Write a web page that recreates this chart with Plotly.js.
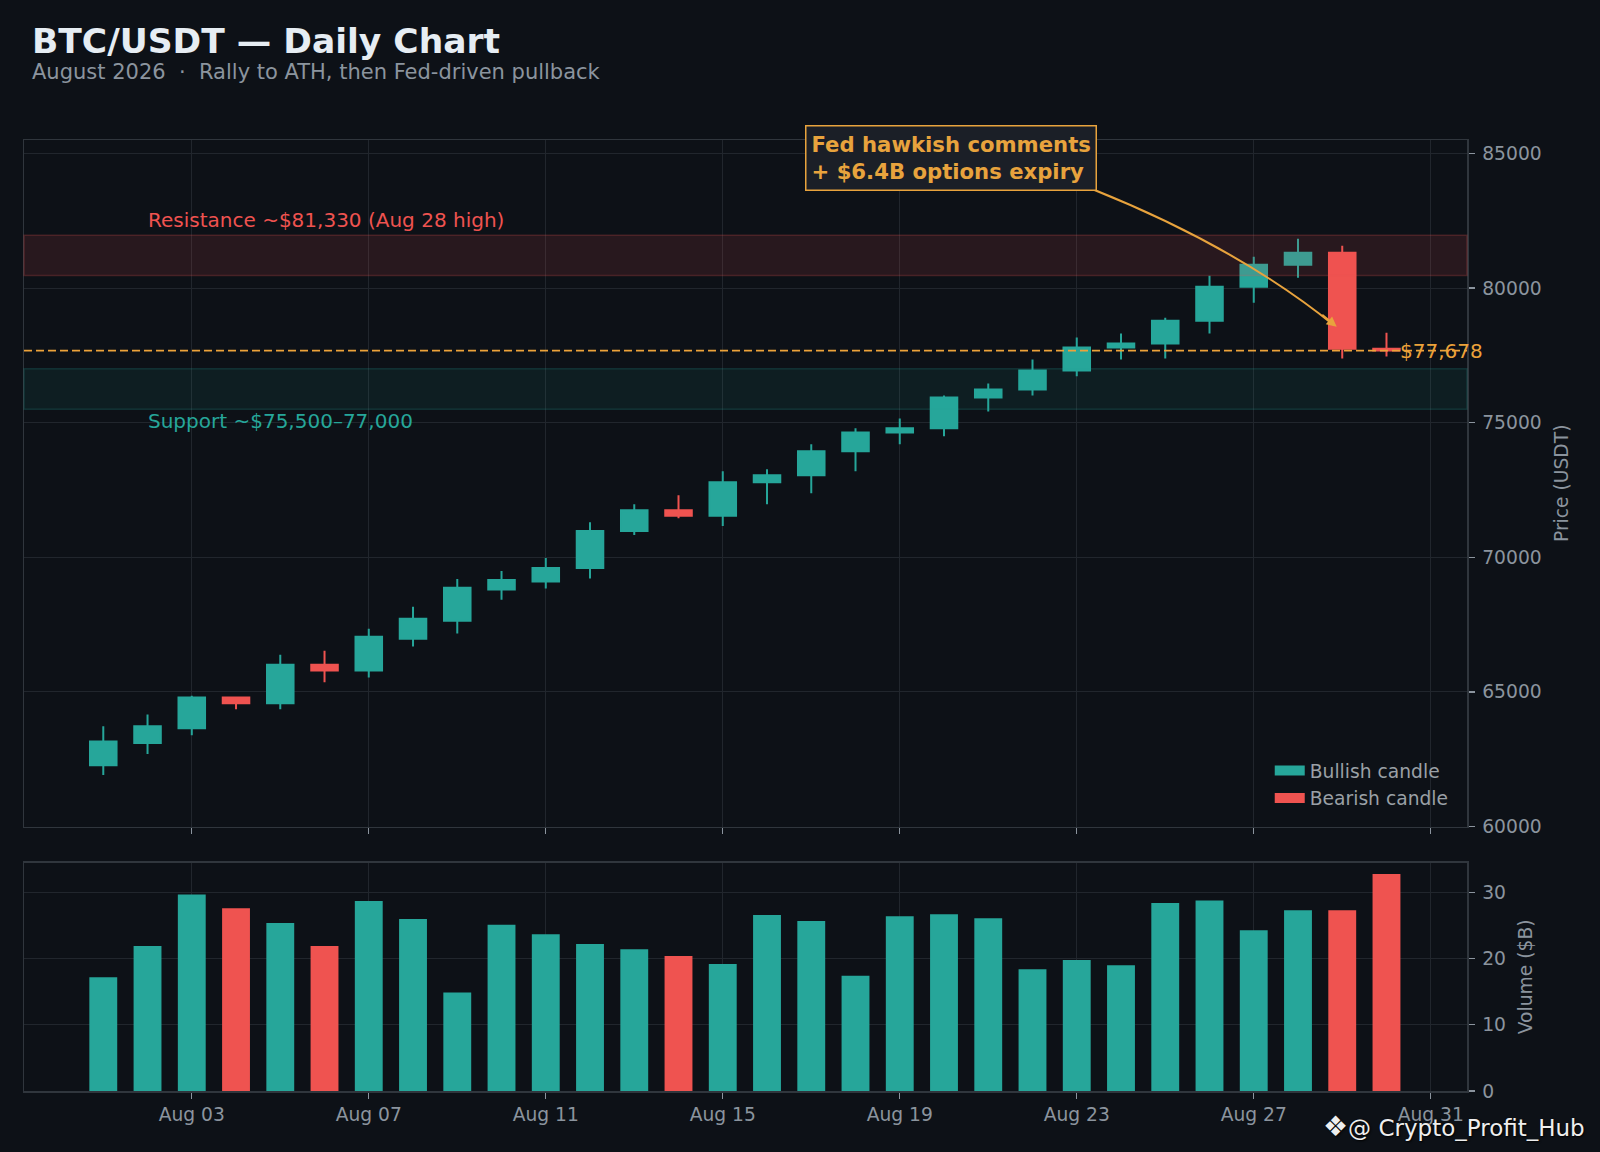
<!DOCTYPE html>
<html><head><meta charset="utf-8">
<script src="https://cdn.plot.ly/plotly-3.0.1.min.js"></script>
<style>html,body{margin:0;padding:0;background:#0d1117;} #chart{width:1600px;height:1152px;}</style>
</head><body><div id="chart"></div>
<script>
// ---- data ----
const dates = ['2026-08-01','2026-08-02','2026-08-03','2026-08-04','2026-08-05','2026-08-06','2026-08-07','2026-08-08','2026-08-09','2026-08-10',
               '2026-08-11','2026-08-12','2026-08-13','2026-08-14','2026-08-15','2026-08-16','2026-08-17','2026-08-18','2026-08-19','2026-08-20',
               '2026-08-21','2026-08-22','2026-08-23','2026-08-24','2026-08-25','2026-08-26','2026-08-27','2026-08-28','2026-08-29','2026-08-30'];
const open  = [62280,63100,63650,64790,64580,66010,65800,66975,67640,68800,69100,69605,70975,71750,71540,72790,73050,73940,74640,74790,75940,76235,76940,77790,77940,78790,80050,80865,81310,77750];
const high  = [63720,64160,64860,64830,66380,66530,67345,68160,69195,69495,69975,71305,71975,72305,73195,73270,74195,74790,75160,76010,76455,77345,78160,78310,78900,80455,81160,81830,81570,78345];
const low   = [61910,62690,63390,64355,64355,65355,65540,66690,67170,68420,68840,69210,70825,71455,71160,71975,72380,73195,74195,74495,75420,76010,76725,77345,77380,78310,79455,80380,77380,77455];
const close = [63160,63720,64790,64580,66010,65800,67050,67715,68865,69160,69605,70975,71750,71540,72790,73050,73940,74640,74790,75940,76235,76940,77790,77940,78790,80050,80865,81310,77750,77678];
const volume = [17.2,21.9,29.7,27.6,25.4,21.9,28.7,26.0,14.9,25.1,23.7,22.2,21.4,20.4,19.2,26.6,25.7,17.4,26.4,26.7,26.1,18.4,19.8,19.0,28.4,28.8,24.3,27.3,27.3,32.8];
const tickDates  = ['2026-08-03','2026-08-07','2026-08-11','2026-08-15','2026-08-19','2026-08-23','2026-08-27','2026-08-31'];
const tickLabels = ['Aug 03','Aug 07','Aug 11','Aug 15','Aug 19','Aug 23','Aug 27','Aug 31'];
const priceTicks = [60000,65000,70000,75000,80000,85000];
const volTicks = [0,10,20,30];
const resistanceZone = [80470, 81960];
const supportZone = [75500, 77000];
const lastPrice = 77678;

// ---- styling ----
const F = 'DejaVu Sans';
const BULL = '#26a69a', BEAR = '#ef5350', ORANGE = '#eca23a';
const GRAY = '#8b949e';

const candle = {
  type: 'candlestick', x: dates, open: open, high: high, low: low, close: close,
  xaxis: 'x', yaxis: 'y', whiskerwidth: 0, showlegend: false, hoverinfo: 'x',
  increasing: {line: {color: BULL, width: 2}, fillcolor: BULL},
  decreasing: {line: {color: BEAR, width: 2}, fillcolor: BEAR}
};
const volColors = close.map((c, i) => c >= open[i] ? BULL : BEAR);
const vol = {
  type: 'bar', x: dates, y: volume, width: 0.63 * 86400000,
  marker: {color: volColors, line: {width: 0}}, xaxis: 'x2', yaxis: 'y2', showlegend: false, hoverinfo: 'y'
};
const legBull = {type: 'scatter', mode: 'lines', x: [null], y: [null], name: 'Bullish candle', line: {color: BULL, width: 10}, xaxis: 'x', yaxis: 'y'};
const legBear = {type: 'scatter', mode: 'lines', x: [null], y: [null], name: 'Bearish candle', line: {color: BEAR, width: 10}, xaxis: 'x', yaxis: 'y'};

const xRange = ['2026-07-30 05:00', '2026-08-31 19:40'];
const axisCommon = {
  gridcolor: '#21262d', gridwidth: 1, linecolor: '#30363d', linewidth: 1.5, mirror: true, showline: true,
  zeroline: false, ticks: 'outside', ticklen: 6, tickwidth: 1.2, tickcolor: GRAY,
  tickfont: {family: F, size: 18.7, color: GRAY}
};

const layout = {
  width: 1600, height: 1152,
  paper_bgcolor: '#0d1117', plot_bgcolor: '#0d1117',
  margin: {l: 24, r: 133, t: 140, b: 61},
  font: {family: F, color: GRAY},
  boxgap: 0.4, boxgroupgap: 0,
  hovermode: false,
  xaxis: Object.assign({}, axisCommon, {type: 'date', range: xRange, tickvals: tickDates, ticktext: tickLabels,
          showticklabels: false, anchor: 'y', rangeslider: {visible: false}}),
  xaxis2: Object.assign({}, axisCommon, {type: 'date', range: xRange, matches: 'x', tickvals: tickDates, ticktext: tickLabels, anchor: 'y2'}),
  yaxis: Object.assign({}, axisCommon, {domain: [0.2781, 1], side: 'right', range: [60000, 85500], tickvals: priceTicks,
          tickformat: 'd', anchor: 'x', ticklabelstandoff: 4,
          title: {text: 'Price (USDT)', standoff: 14, font: {family: F, size: 18.7, color: GRAY}}}),
  yaxis2: Object.assign({}, axisCommon, {domain: [0, 0.2401], side: 'right', range: [0, 34.5], tickvals: volTicks,
          anchor: 'x2', ticklabelstandoff: 4,
          title: {text: 'Volume ($B)', standoff: 14, font: {family: F, size: 18.7, color: GRAY}}}),
  showlegend: true,
  legend: {x: 0.8633, y: 0.3565, xanchor: 'left', yanchor: 'top', bgcolor: 'rgba(0,0,0,0)',
           font: {family: F, size: 18.7, color: '#9aa0a6'}, tracegroupgap: 0},
  shapes: [
    {type: 'rect', xref: 'paper', x0: 0, x1: 1, yref: 'y', y0: resistanceZone[0], y1: resistanceZone[1],
     fillcolor: 'rgba(239,83,80,0.12)', line: {color: 'rgba(239,83,80,0.22)', width: 1.5}, layer: 'above'},
    {type: 'rect', xref: 'paper', x0: 0, x1: 1, yref: 'y', y0: supportZone[0], y1: supportZone[1],
     fillcolor: 'rgba(38,166,154,0.09)', line: {color: 'rgba(38,166,154,0.2)', width: 1.5}, layer: 'above'},
    {type: 'line', xref: 'paper', x0: 0, x1: 1, yref: 'y', y0: lastPrice, y1: lastPrice,
     line: {color: ORANGE, width: 1.8, dash: '8px,4px'}, layer: 'above'},
    {type: 'path', xref: 'paper', yref: 'paper', path: 'M 0.7406,0.9482 Q 0.8408,0.8874 0.9080,0.8050',
     line: {color: '#e8a33d', width: 2}, layer: 'above'}
  ],
  annotations: [
    {xref: 'paper', yref: 'paper', x: 0.0045, y: 1.104, xanchor: 'left', yanchor: 'middle', showarrow: false,
     text: '<b>BTC/USDT — Daily Chart</b>', font: {family: F, size: 34.5, color: '#e6edf3'}},
    {xref: 'paper', yref: 'paper', x: 0.0045, y: 1.0715, xanchor: 'left', yanchor: 'middle', showarrow: false,
     text: 'August 2026 \u00a0·\u00a0 Rally to ATH, then Fed-driven pullback', font: {family: F, size: 21, color: GRAY}},
    {xref: 'paper', yref: 'y', x: 0.0845, y: 82520, xanchor: 'left', yanchor: 'middle', showarrow: false,
     text: 'Resistance ~$81,330 (Aug 28 high)', font: {family: F, size: 20, color: BEAR}},
    {xref: 'paper', yref: 'y', x: 0.0845, y: 75045, xanchor: 'left', yanchor: 'middle', showarrow: false,
     text: 'Support ~$75,500–77,000', font: {family: F, size: 20, color: BULL}},
    {xref: 'paper', yref: 'y', x: 0.9525, y: lastPrice, xanchor: 'left', yanchor: 'middle', showarrow: false,
     text: '$77,678', font: {family: F, size: 20, color: ORANGE}},
    {xref: 'paper', yref: 'paper', x: 0.6421, y: 0.9814, xanchor: 'center', yanchor: 'middle', showarrow: false, align: 'left',
     text: '<b>Fed hawkish comments<br>+ $6.4B options expiry</b>', font: {family: F, size: 21.2, color: '#e8a33d'},
     bgcolor: '#1b1f27', bordercolor: '#e8a33d', borderwidth: 1.5, borderpad: 5},
    {xref: 'paper', yref: 'paper', x: 0.9097, y: 0.8037, text: '', showarrow: true, arrowhead: 2, arrowsize: 1,
     arrowwidth: 2, arrowcolor: '#e8a33d', ax: -16, ay: -13},
    {xref: 'paper', yref: 'paper', x: 0.8985, y: -0.0375, xanchor: 'left', yanchor: 'middle', showarrow: false,
     text: '<span style="font-size:28px">❖</span>@ Crypto_Profit_Hub',
     font: {family: F, size: 23, color: '#eeeeee', shadow: '1px 1px 2px #000'}}
  ]
};

Plotly.newPlot('chart', [candle, vol, legBull, legBear], layout, {displayModeBar: false, staticPlot: true});
</script>
</body></html>
